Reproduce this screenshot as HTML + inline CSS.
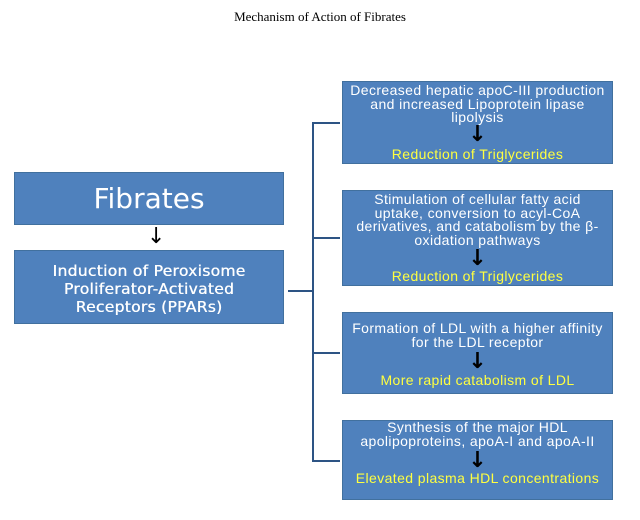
<!DOCTYPE html>
<html><head><style>
body{margin:0;width:640px;height:520px;background:#fff;position:relative;overflow:hidden;font-family:"DejaVu Sans","Liberation Sans",sans-serif}
.b{position:absolute;background:#4f81bd;border:1px solid #41709e;color:#fff;text-align:center;box-sizing:border-box}
.y{color:#ffff40}
.a{font-family:"DejaVu Sans",sans-serif;font-size:22px;line-height:20px;color:#000;font-weight:bold;letter-spacing:0}
.l{position:absolute;background:#2d5484}
.r{font-family:"Liberation Sans",sans-serif;font-size:14px;letter-spacing:0.4px;line-height:13.6px;white-space:nowrap}
</style></head><body>
<div style="position:absolute;top:9px;left:0;width:640px;text-align:center;font-family:'Liberation Serif',serif;font-size:13px">Mechanism of Action of Fibrates</div>
<div class="b" style="left:14px;top:172px;width:270px;height:53px;font-size:28px;line-height:51px">Fibrates</div>
<div style="position:absolute;left:147px;top:226px;font-size:22px;line-height:22px">↓</div>
<div class="b" style="left:14px;top:250px;width:270px;height:74px;font-size:15.5px;line-height:18px;padding:11px 18px 0;letter-spacing:0.3px;text-shadow:0.4px 0 0 #fff">Induction of Peroxisome Proliferator-Activated Receptors (PPARs)</div>
<div class="l" style="left:288px;top:290px;width:26px;height:2px"></div>
<div class="l" style="left:312px;top:122px;width:2px;height:340px"></div>
<div class="l" style="left:312px;top:122px;width:28px;height:2px"></div>
<div class="l" style="left:312px;top:237px;width:28px;height:2px"></div>
<div class="l" style="left:312px;top:352px;width:28px;height:2px"></div>
<div class="l" style="left:312px;top:460px;width:28px;height:2px"></div>
<div class="b r" style="left:342px;top:81px;width:271px;height:83px;padding-top:2px">Decreased hepatic apoC-III production<br>and increased Lipoprotein lipase<br>lipolysis<div class="a">↓</div><div class="y" style="margin-top:3px">Reduction of Triglycerides</div></div>
<div class="b r" style="left:342px;top:190px;width:271px;height:96px;padding-top:2px">Stimulation of cellular fatty acid<br>uptake, conversion to acyl-CoA<br>derivatives, and catabolism by the β-<br>oxidation pathways<div class="a" style="margin-top:2px">↓</div><div class="y" style="margin-top:1px">Reduction of Triglycerides</div></div>
<div class="b r" style="left:342px;top:312px;width:271px;height:82px;padding-top:9px">Formation of LDL with a higher affinity<br>for the LDL receptor<div class="a" style="margin-top:3px">↓</div><div class="y" style="margin-top:2px">More rapid catabolism of LDL</div></div>
<div class="b r" style="left:342px;top:420px;width:271px;height:80px;padding-top:0px">Synthesis of the major HDL<br>apolipoproteins, apoA-I and apoA-II<div class="a" style="margin-top:3px">↓</div><div class="y" style="margin-top:1px">Elevated plasma HDL concentrations</div></div>
</body></html>
